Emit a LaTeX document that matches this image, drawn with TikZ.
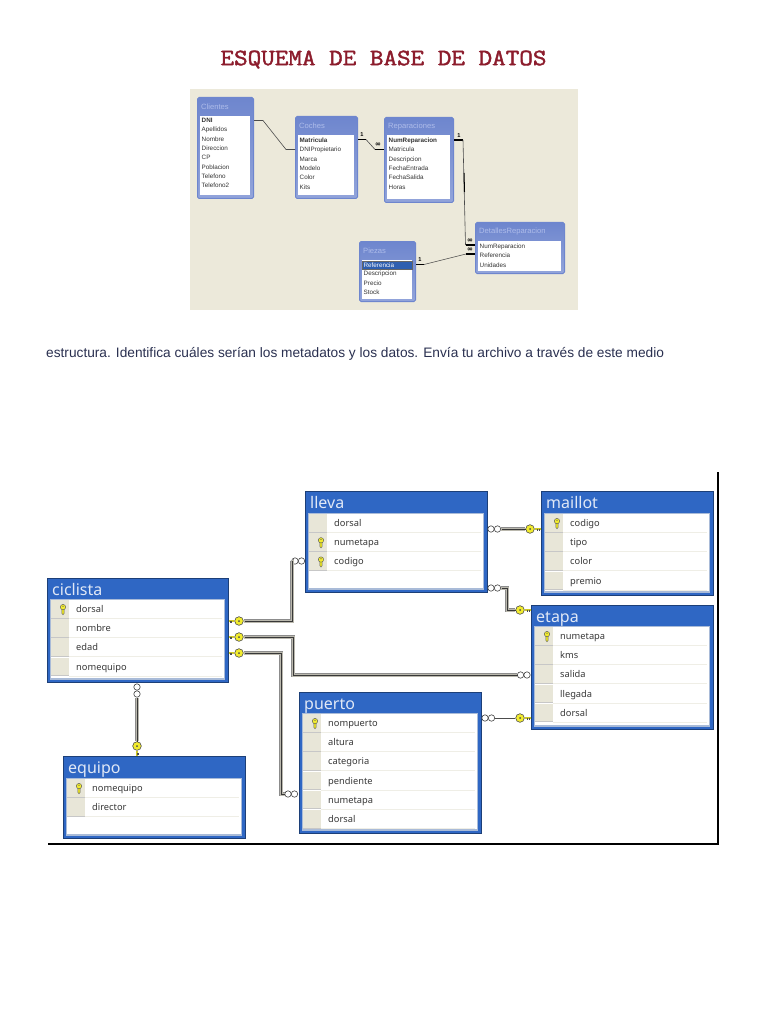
\documentclass[tikz,border=0pt]{standalone}
\usepackage{graphicx}
\usepackage{fontspec}
\setmainfont{Liberation Sans}
\newfontfamily\titlefam[FakeBold=1.6]{Latin Modern Mono}
\newfontfamily\erfam{Noto Sans}
\newfontfamily\symfam{DejaVu Sans}
\usetikzlibrary{calc}
\definecolor{erblue}{HTML}{2F67C4}
\definecolor{erdark}{HTML}{1C3F78}
\definecolor{erhead}{HTML}{E8E6D8}
\definecolor{erline}{HTML}{EFEEE6}
\definecolor{eredge}{HTML}{A9BBD8}
\definecolor{keyyel}{HTML}{F2EC2E}
\definecolor{acframe}{HTML}{6E86CE}
\definecolor{actitle}{HTML}{AEBCEA}
\definecolor{beige}{HTML}{ECE9DA}
\tikzset{
  ertable/.style={draw=erdark,line width=1.2pt,fill=erblue,anchor=north west,inner sep=0pt},
  ertitle/.style={anchor=west,inner sep=0pt,text=white!85!erblue,font=\erfam\fontsize{16}{17}\selectfont,text height=11pt,text depth=3pt},
  errow/.style={anchor=west,inner sep=0pt,text=black!78,font=\erfam\fontsize{9.3}{11}\selectfont,text height=7pt,text depth=2pt},
  actable/.style={draw=acframe,line width=1pt,rounded corners=1.5pt,top color=acframe,bottom color=acframe!75!white,anchor=north west,inner sep=0pt},
  actitlefont/.style={anchor=west,inner sep=0pt,text=actitle,font=\fontsize{7.6}{9}\selectfont},
  acrow/.style={anchor=west,inner sep=0pt,text=black!80,font=\fontsize{6.3}{7}\selectfont,text height=4.6pt,text depth=1.4pt},
  rel/.style={draw=erhead!80!black,line width=3pt,preaction={draw=black!45,line width=4pt},
     postaction={draw=black!78,line width=1.1pt,transform canvas={xshift=0.9pt,yshift=-0.9pt}}},
  thinrel/.style={draw=black!70,line width=0.6pt},
  thickrel/.style={draw=black,line width=1.7pt},
  crow/.style={circle,draw=black!75,fill=white,line width=0.6pt,minimum size=6.4pt,inner sep=0pt},
  keyhead/.style={circle,draw=black!70,fill=keyyel,line width=0.6pt,minimum size=8.6pt,inner sep=0pt,
    path picture={\fill[black!70] (path picture bounding box.center) circle (1pt);}},
  keyshaft/.style={draw=keyyel!85!black,line width=1.6pt,preaction={draw=black!60,line width=2.6pt}},
  keytooth/.style={draw=black!70,line width=0.9pt},
  mark1/.style={inner sep=0pt,font=\bfseries\fontsize{5.6}{6}\selectfont},
  markinf/.style={inner sep=0pt,font=\symfam\bfseries\fontsize{7}{7}\selectfont},
  rowkeyicon/.pic={
    \fill[keyyel!90!black,draw=black!60,line width=0.35pt] (-1.2,-1) -- (1.2,-1) -- (1.2,4) -- (0,5.5) -- (-1.2,4) -- cycle;
    \fill[keyyel,draw=black!65,line width=0.45pt] (0,-2.2) circle (2.7);
    \fill[black!65] (0,-3) circle (0.6);
  }
}
% name, title, x1, y1, x2, y2, inner top, rows (text/key)
\newcommand{\ertab}[8]{%
  \node[ertable,minimum width={(#5-#3)*1pt},minimum height={(#6-#4)*1pt}] (#1) at (#3,#4) {};
  \node[ertitle] (#1-title) at (#3+5,{(#4+#7)/2+2.6}) {#2};
  \fill[eredge] (#3+3,#7) rectangle (#5-3,#6-2.5);
  \fill[white] (#3+4,#7+1) rectangle (#5-4,#6-4);
  \foreach \rowtext/\haskey [count=\ri] in {#8}{
    \pgfmathsetmacro{\rtop}{#7+1+(\ri-1)*19.2}
    \fill[erhead] (#3+4,\rtop) rectangle (#3+22,\rtop+18.4);
    \fill[black!22] (#3+4,\rtop+17.6) rectangle (#3+22,\rtop+18.6);
    \draw[erline,line width=0.7pt] (#3+22,\rtop+18.4) -- (#5-6,\rtop+18.4);
    \node[errow] (#1-r\ri) at (#3+29,\rtop+9.9) {\rowtext};
    \ifnum\haskey=1 \pic at (#3+16,\rtop+9.3) {rowkeyicon};\fi
  }
}
% name, title, x1, y1, x2, y2, inner top, first line y, rows
\newcommand{\actab}[9]{%
  \node[actable,minimum width={(#5-#3)*1pt},minimum height={(#6-#4)*1pt}] (#1) at (#3,#4) {};
  \node[actitlefont] (#1-title) at (#3+4,{(#4+#7)/2+0.5}) {#2};
  \fill[white] (#3+3,#7) rectangle (#5-3,#6-2.5);
  \foreach \rowtext [count=\ri] in {#9}{
    \pgfmathsetmacro{\ry}{#8+(\ri-1)*9.3}
    \node[acrow] (#1-r\ri) at (#3+4.5,\ry) {\rowtext};
  }
}
% key shaft, from a key head to a table edge point; leaves tooth positions
\newcommand{\keyshaft}[2]{%
  \draw[keyshaft] (#1) -- (#2);
  \path (#1) -- (#2) coordinate[pos=0.5] (tmpa) coordinate[pos=0.8] (tmpb);
}
\begin{document}
\begin{tikzpicture}[x=1pt,y=-1pt]
\useasboundingbox (0,0) rectangle (768,1024);
\fill[white] (0,0) rectangle (768,1024);
\node[inner sep=0pt,text={rgb,255:red,140;green,28;blue,44},font=\titlefam\fontsize{23.4}{25}\selectfont] (maintitle) at (383.5,59.5) {\scalebox{1.127}[1]{ESQUEMA DE BASE DE DATOS}};
\node[inner sep=0pt,anchor=west,text={rgb,255:red,42;green,48;blue,80},font=\fontsize{13.7}{16}\selectfont] (sentence) at (46,353.5) {estructura. Identifica cuáles serían los metadatos y los datos. Envía tu archivo a través de este medio};
% --- upper screenshot
\node[fill=beige,inner sep=0pt,anchor=north west,minimum width=388pt,minimum height=221pt] (shot) at (190,89) {};
\actab{clientes}{Clientes}{197}{97}{253}{198}{116}{121}{\textbf{DNI},Apellidos,Nombre,Direccion,CP,Poblacion,Telefono,Telefono2}
\actab{coches}{Coches}{295}{116}{357}{198}{135}{141}{\textbf{Matricula},DNIPropietario,Marca,Modelo,Color,Kits}
\actab{repar}{Reparaciones}{384}{117}{453}{202}{135}{141}{\textbf{NumReparacion},Matricula,Descripcion,FechaEntrada,FechaSalida,Horas}
\actab{detalles}{DetallesReparacion}{475}{222}{564}{273}{241}{247}{NumReparacion,Referencia,Unidades}
\actab{piezas}{Piezas}{359}{241}{415}{301}{260}{265}{{},Descripcion,Precio,Stock}
\node[fill={rgb,255:red,47;green,95;blue,176},draw=black!60,line width=0.3pt,inner sep=0pt,anchor=west,minimum width=50pt,minimum height=8.5pt,text=white,font=\fontsize{6.3}{7}\selectfont,text width=47pt] (piezasref) at (362,265) {Referencia};
% upper connectors
\draw[thinrel] (clientes.east |- 0,120.5) -- (263,120.5) -- (286,149.5) -- (coches.west |- 0,149.5);
\draw[thickrel] (coches.east |- 0,139.5) -- (366,139.5);
\draw[thinrel] (366,139.5) -- (375,149.5);
\draw[thickrel] (375,149.5) -- (repar.west |- 0,149.5);
\draw[thickrel] (repar.east |- 0,140) -- (463,140);
\draw[thinrel] (463,140) -- (465.5,245);
\draw[draw=black,line width=1pt] (464,173) -- (464.5,192);
\draw[thickrel] (465.5,245) -- (detalles.west |- 0,245);
\draw[thickrel] (piezas.east |- 0,264.5) -- (424,264.5);
\draw[thinrel] (424,264.5) -- (466,254);
\draw[thickrel] (466,254) -- (detalles.west |- 0,254);
\node[mark1] (m1) at (362,135) {1};
\node[markinf] (m2) at (378,145) {∞};
\node[mark1] (m3) at (459,135.5) {1};
\node[markinf] (m4) at (470,241) {∞};
\node[markinf] (m5) at (470,250) {∞};
\node[mark1] (m6) at (420,259.5) {1};
% --- lower diagram
\ertab{ciclista}{ciclista}{47}{578}{228}{682}{599}{dorsal/1,nombre/0,edad/0,nomequipo/0}
\ertab{lleva}{lleva}{305}{491}{487}{592}{513}{dorsal/0,numetapa/1,codigo/1}
\ertab{maillot}{maillot}{541}{491}{713}{595}{513}{codigo/1,tipo/0,color/0,premio/0}
\ertab{etapa}{etapa}{531}{605}{713}{729}{626}{numetapa/1,kms/0,salida/0,llegada/0,dorsal/0}
\ertab{puerto}{puerto}{299}{692}{481}{833}{713}{nompuerto/1,altura/0,categoria/0,pendiente/0,numetapa/0,dorsal/0}
\ertab{equipo}{equipo}{63}{756}{245}{838}{778}{nomequipo/1,director/0}
% frame lines
\coordinate (frameA) at (717.5,472);
\coordinate (frameB) at (717.5,844);
\coordinate (frameC) at (48,844);
\draw[black,line width=2pt] (frameA) -- (frameB) -- (frameC);
% key heads and crow's feet
\node[keyhead] (k1) at (239,621) {};
\node[keyhead] (k2) at (239,637) {};
\node[keyhead] (k3) at (239,653) {};
\node[keyhead] (k4) at (137,746) {};
\node[keyhead] (k5) at (530,529) {};
\node[keyhead] (k6) at (520,610) {};
\node[keyhead] (k7) at (520,718) {};
\node[crow] (c1b) at (295,561) {};
\node[crow] (c1a) at (301.5,561) {};
\node[crow] (c2b) at (520.5,675) {};
\node[crow] (c2a) at (527,675) {};
\node[crow] (c3b) at (288,794) {};
\node[crow] (c3a) at (294.5,794) {};
\node[crow] (c4a) at (137,687) {};
\node[crow] (c4b) at (137,694) {};
\node[crow] (c5a) at (491,529) {};
\node[crow] (c5b) at (497.5,529) {};
\node[crow] (c6a) at (491,588) {};
\node[crow] (c6b) at (497.5,588) {};
\node[crow] (c7a) at (485,718) {};
\node[crow] (c7b) at (491.5,718) {};
% key shafts and teeth
\keyshaft{k1.west}{ciclista.east |- k1}
\draw[keytooth] (tmpa) -- +(0,2.4); \draw[keytooth] (tmpb) -- +(0,2.4);
\keyshaft{k2.west}{ciclista.east |- k2}
\draw[keytooth] (tmpa) -- +(0,2.4); \draw[keytooth] (tmpb) -- +(0,2.4);
\keyshaft{k3.west}{ciclista.east |- k3}
\draw[keytooth] (tmpa) -- +(0,2.4); \draw[keytooth] (tmpb) -- +(0,2.4);
\keyshaft{k4.south}{equipo.north -| k4}
\draw[keytooth] (tmpa) -- +(2.4,0); \draw[keytooth] (tmpb) -- +(2.4,0);
\keyshaft{k5.east}{maillot.west |- k5}
\draw[keytooth] (tmpa) -- +(0,2.4); \draw[keytooth] (tmpb) -- +(0,2.4);
\keyshaft{k6.east}{etapa.west |- k6}
\draw[keytooth] (tmpa) -- +(0,2.4); \draw[keytooth] (tmpb) -- +(0,2.4);
\keyshaft{k7.east}{etapa.west |- k7}
\draw[keytooth] (tmpa) -- +(0,2.4); \draw[keytooth] (tmpb) -- +(0,2.4);
% relationships
\draw[rel] (k1.east) -- (292,621) -- (292,561) -- (c1b.west);
\draw[rel] (k2.east) -- (293,637) -- (293,675) -- (c2b.west);
\draw[rel] (k3.east) -- (281,653) -- (281,794) -- (c3b.west);
\draw[rel] (c4b.south) -- (k4.north);
\draw[rel] (c5b.east) -- (k5.west);
\draw[rel] (c6b.east) -- (507,588) -- (507,610) -- (k6.west);
\draw[draw=black!70,line width=0.9pt] (c7b.east) -- (k7.west);
\end{tikzpicture}
\end{document}
